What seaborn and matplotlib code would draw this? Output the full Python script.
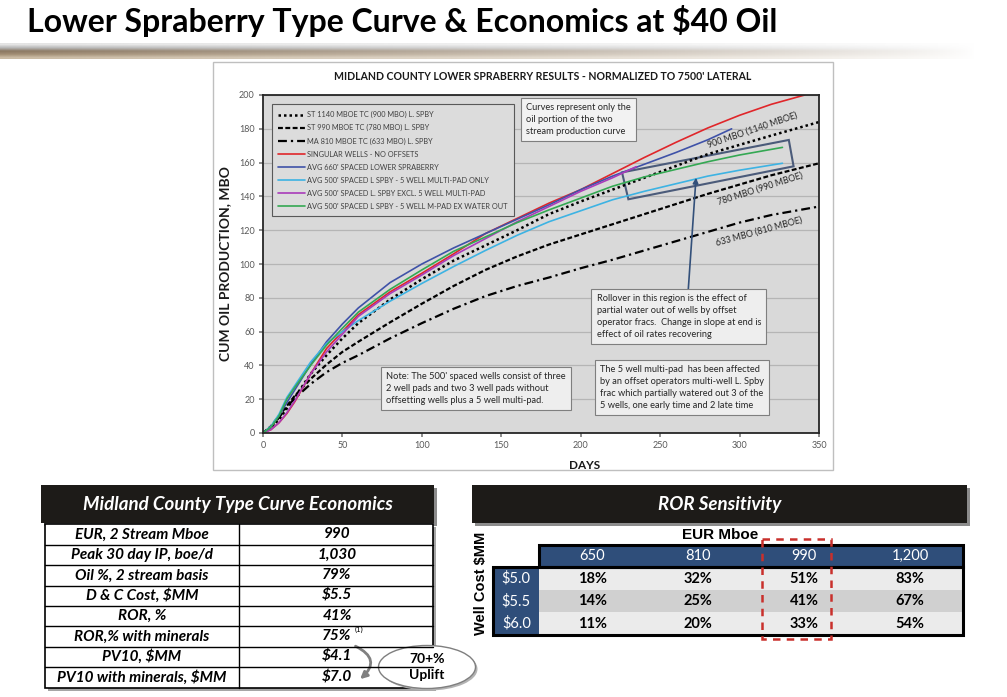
import numpy as np
import pandas as pd
import seaborn as sns
import matplotlib.pyplot as plt
from matplotlib.patches import Rectangle, Polygon, Ellipse, FancyArrowPatch
from matplotlib.colors import ListedColormap, to_rgb

sns.set_theme(style="white")
plt.rcParams["font.family"] = ["Lato", "DejaVu Sans"]

# ---- type curves (days, cum oil MBO) ----
days_tc = [0, 5, 10, 15, 20, 30, 40, 50, 60, 80, 100, 120, 140, 160, 180, 200, 220, 240, 260, 280, 300, 320, 350]
st1140 = [0, 3, 8, 14.5, 21, 35, 46, 56, 65, 79, 91, 102, 111, 120, 129.5, 137, 144, 151, 158, 165, 170.5, 176, 184]
st990 = [0, 4, 10, 16, 22, 32, 40.5, 48, 54, 65.5, 76.5, 87, 96.5, 104.5, 111.5, 117.5, 123.5, 129.5, 135.5, 141.5, 147, 152.5, 159.6]
ma810 = [0, 3.5, 9, 15.5, 20.5, 29, 36, 41.5, 46, 56, 65, 73.5, 81, 87, 92, 97.5, 102.5, 108, 113.5, 119, 124.5, 129, 134]

# ---- actual well groups ----
red_days = [0, 5, 10, 15, 20, 30, 40, 50, 60, 80, 100, 120, 140, 160, 180, 200, 220, 240, 260, 280, 300, 320, 341]
red_vals = [0, 2, 6, 11.5, 18.5, 35, 50, 60, 70, 83.5, 94.5, 106, 118, 127, 136, 144, 153.5, 163, 172, 180.5, 188, 194.5, 200]
blue_days = [0, 5, 10, 15, 20, 30, 40, 50, 60, 80, 100, 120, 140, 160, 180, 200, 220, 240, 260, 280, 295]
blue_vals = [0, 3.5, 10, 18, 25.5, 40.5, 54, 64.5, 74, 89, 100, 109.5, 118, 126.5, 135, 144, 152, 159, 166, 173.5, 180]
cyan_days = [0, 5, 10, 15, 20, 30, 40, 50, 60, 80, 100, 120, 140, 160, 180, 200, 220, 240, 260, 280, 300, 327]
cyan_vals = [0, 4, 11, 21, 28, 42, 53, 60, 66.5, 78, 88.5, 98.5, 108, 117, 125, 131.5, 138, 143, 147.5, 152, 155.5, 159.6]
mag_days = [0, 5, 10, 15, 20, 30, 40, 50, 60, 80, 100, 120, 140, 160, 180, 200, 220, 235]
mag_vals = [0, 2, 6, 12, 19, 35, 48, 58.5, 69, 82.5, 93.5, 105, 115, 125, 134, 143, 151, 157.6]
green_days = [0, 5, 10, 15, 20, 30, 40, 50, 60, 80, 100, 120, 140, 160, 180, 200, 220, 240, 260, 280, 300, 327]
green_vals = [0, 3.5, 10, 20, 27, 40, 52, 62, 71.5, 85, 96.5, 107.5, 116, 124.5, 132, 139, 146, 151.5, 156, 160.5, 164.5, 169]

series = [
    ("ST 1140 MBOE TC (900 MBO) L. SPBY", days_tc, st1140, "black", (0, (1, 1.2)), 1.8),
    ("ST 990 MBOE TC (780 MBO) L. SPBY", days_tc, st990, "black", (0, (2.2, 1.1)), 1.6),
    ("MA 810 MBOE TC (633 MBO) L. SPBY", days_tc, ma810, "black", (0, (4, 1.8, 1, 1.8)), 1.6),
    ("SINGULAR WELLS - NO OFFSETS", red_days, red_vals, "#e0262a", "-", 1.2),
    ("AVG 660' SPACED LOWER SPRABERRY", blue_days, blue_vals, "#3f52a8", "-", 1.2),
    ("AVG 500' SPACED L SPBY - 5 WELL MULTI-PAD ONLY", cyan_days, cyan_vals, "#3db3e3", "-", 1.2),
    ("AVG 500' SPACED L. SPBY EXCL. 5 WELL MULTI-PAD", mag_days, mag_vals, "#a93cba", "-", 1.2),
    ("AVG 500' SPACED L SPBY - 5 WELL M-PAD EX WATER OUT", green_days, green_vals, "#34a853", "-", 1.2),
]

# ---- tables ----
econ_labels = ["EUR, 2 Stream Mboe", "Peak 30 day IP, boe/d", "Oil %, 2 stream basis", "D & C Cost, $MM",
               "ROR, %", "ROR,% with minerals", "PV10, $MM", "PV10 with minerals, $MM"]
econ_values = ["990", "1,030", "79%", "$5.5", "41%", "75%", "$4.1", "$7.0"]
eur_cols = ["650", "810", "990", "1,200"]
cost_rows = ["$5.0", "$5.5", "$6.0"]
ror_values = [[18, 32, 51, 83],
              [14, 25, 41, 67],
              [11, 20, 33, 54]]

fig = plt.figure(figsize=(10.07, 6.97), dpi=100)

# background / slide layer in pixel coordinates
bg = fig.add_axes([0, 0, 1, 1])
bg.axis("off")

# title bar gradient
prof = np.array([to_rgb(c) for c in ["#e4e4e4", "#b5b5b5", "#8a7761", "#a08c72", "#c9b9a2"]])
fade = np.clip(1 - np.linspace(0, 1, 400) / 0.97, 0, 1) ** 0.8
grad = np.ones((prof.shape[0], 400, 4))
grad[:, :, :3] = prof[:, None, :]
grad[:, :, 3] = fade[None, :]
bg.imshow(grad, extent=[0, 1007, 59, 43], aspect="auto", interpolation="bilinear")
bg.set_xlim(0, 1007)
bg.set_ylim(697, 0)
bg.text(27, 21, "Lower Spraberry Type Curve & Economics at $40 Oil", fontsize=23, fontweight="bold",
        ha="left", va="center", color="black")

# chart panel
bg.add_patch(Rectangle((213, 62), 620, 408, fc="white", ec="#bfbfbf", lw=1))
bg.text(543, 77, "MIDLAND COUNTY LOWER SPRABERRY RESULTS - NORMALIZED TO 7500' LATERAL",
        fontsize=7.6, fontweight="bold", ha="center", va="center", color="#1a1a1a")

# ---- main chart ----
ax = fig.add_axes([263 / 1007, 1 - 433 / 697, 556 / 1007, 338 / 697])
ax.set_facecolor("#d9d9d9")
for lab, d, v, col, ls, lw in series:
    sns.lineplot(x=d, y=v, ax=ax, color=col, linestyle=ls, lw=lw, label=lab)

ax.set_xlim(0, 350)
ax.set_ylim(0, 200)
ax.set_xticks(range(0, 351, 50))
ax.set_yticks(range(0, 201, 20))
ax.grid(axis="y", color="#b5b5b5", lw=0.9)
ax.set_axisbelow(True)
for s in ax.spines.values():
    s.set_visible(True)
    s.set_color("#262626")
    s.set_linewidth(1.3)
ax.tick_params(labelsize=6.5, labelcolor="#595959", color="#808080", length=3, direction="out",
               left=True, bottom=True, pad=3)
ax.set_xlabel("DAYS", fontsize=8.5, fontweight="bold", color="#1a1a1a")
ax.set_ylabel("CUM OIL PRODUCTION, MBO", fontsize=10, fontweight="bold", color="#1a1a1a")
ax.xaxis.set_label_coords(0.578, -0.08)
ax.yaxis.set_label_coords(-0.058, 0.5)

leg = ax.legend(loc="upper left", bbox_to_anchor=(0.009, 0.983), fontsize=5.3, handlelength=3.6,
                labelspacing=0.82, borderpad=0.9, frameon=True, fancybox=False,
                facecolor="#dcdcdc", edgecolor="#595959", framealpha=1, handletextpad=0.3)
leg.get_frame().set_linewidth(0.8)
for t in leg.get_texts():
    t.set_color("#404040")

# curve labels
ax.text(308, 179, "900 MBO (1140 MBOE)", rotation=18.8, fontsize=6.4, ha="center", va="center", color="#262626")
ax.text(313, 144.5, "780 MBO (990 MBOE)", rotation=17.8, fontsize=6.4, ha="center", va="center", color="#262626")
ax.text(312, 119.5, "633 MBO (810 MBOE)", rotation=15.3, fontsize=6.4, ha="center", va="center", color="#262626")

# rollover region box and arrow
ax.add_patch(Polygon([(226, 154.2), (331, 173.4), (334, 157.8), (230, 138.3)], closed=True,
                     fill=False, ec="#4b5b7a", lw=1.5))
ax.annotate("", xy=(272.7, 152.7), xytext=(267.6, 83.4),
            arrowprops=dict(arrowstyle="-|>", color="#33507a", lw=1.2, mutation_scale=8))

box = dict(boxstyle="square,pad=0.55", fc="#eeeeee", ec="#7f7f7f", lw=0.8)
ax.text(165.5, 195, "Curves represent only the\noil portion of the two\nstream production curve",
        fontsize=6.7, ha="left", va="top", color="#262626", linespacing=1.4,
        bbox=dict(boxstyle="square,pad=0.55", fc="#f2f2f2", ec="#7f7f7f", lw=0.8))
ax.text(77.5, 36, "Note: The 500' spaced wells consist of three\n2 well pads and two 3 well pads without\noffsetting wells plus a 5 well multi-pad.",
        fontsize=6.7, ha="left", va="top", color="#262626", linespacing=1.4, bbox=box)
ax.text(210, 82, "Rollover in this region is the effect of\npartial water out of wells by offset\noperator fracs.  Change in slope at end is\neffect of oil rates recovering",
        fontsize=6.7, ha="left", va="top", color="#262626", linespacing=1.4, bbox=box)
ax.text(212, 40, "The 5 well multi-pad  has been affected\nby an offset operators multi-well L. Spby\nfrac which partially watered out 3 of the\n5 wells, one early time and 2 late time",
        fontsize=6.7, ha="left", va="top", color="#262626", linespacing=1.4, bbox=box)

# ---- left economics table ----
hdr_col = "#1d1b18"
bg.add_patch(Rectangle((44, 488), 393, 38, fc="#8c8c8c", ec="none"))
bg.add_patch(Rectangle((41, 485), 393, 38, fc=hdr_col, ec="none"))
bg.text(237.5, 504.5, "Midland County Type Curve Economics", color="white", fontsize=13.5,
        fontweight="bold", fontstyle="italic", ha="center", va="center")
top, rh, left, right, split = 524.3, 20.4, 45, 433, 239
nrow = len(econ_labels)
bg.add_patch(Rectangle((left + 3, top + 3), right - left, rh * nrow, fc="#a6a6a6", ec="none"))
bg.add_patch(Rectangle((left, top), right - left, rh * nrow, fc="white", ec="black", lw=1.2))
for i, (lab, val) in enumerate(zip(econ_labels, econ_values)):
    yc = top + rh * (i + 0.5)
    if i > 0:
        bg.plot([left, right], [top + rh * i] * 2, color="black", lw=1)
    bg.text((left + split) / 2, yc, lab, fontsize=11, fontweight="bold", fontstyle="italic",
            ha="center", va="center", color="black")
    bg.text((split + right) / 2 + 1, yc, val, fontsize=11, fontweight="bold", fontstyle="italic",
            ha="center", va="center", color="black")
bg.plot([split, split], [top, top + rh * nrow], color="black", lw=1)
bg.text(355, 629, "(1)", fontsize=5.5, ha="left", va="center", color="black")

# uplift callout
bg.add_patch(FancyArrowPatch((353, 645), (358, 681), connectionstyle="arc3,rad=-0.8",
                             arrowstyle="-|>", mutation_scale=10, color="#808080", lw=2))
bg.add_patch(Ellipse((429, 669), 97, 43, fc="#b3b3b3", ec="none"))
bg.add_patch(Ellipse((427, 667), 97, 43, fc="white", ec="#7f7f7f", lw=1))
bg.text(427, 667, "70+%\nUplift", fontsize=10, fontweight="bold", ha="center", va="center",
        linespacing=1.35, color="black")

# ---- ROR sensitivity ----
bg.add_patch(Rectangle((475, 488), 495, 38, fc="#8c8c8c", ec="none"))
bg.add_patch(Rectangle((472, 485), 495, 38, fc=hdr_col, ec="none"))
bg.text(719.5, 504.5, "ROR Sensitivity", color="white", fontsize=13.5, fontweight="bold",
        fontstyle="italic", ha="center", va="center")
bg.text(720, 535, "EUR Mboe", fontsize=11, fontweight="bold", family="Liberation Sans",
        ha="center", va="center", color="black")
bg.text(481, 583, "Well Cost $MM", fontsize=10.5, fontweight="bold", family="Liberation Sans",
        rotation=90, ha="center", va="center", color="black")

ax_r = fig.add_axes([539.3 / 1007, 1 - 635 / 697, 424 / 1007, 67.7 / 697])
shade = pd.DataFrame([[i % 2] * len(eur_cols) for i in range(len(cost_rows))],
                     index=cost_rows, columns=eur_cols)
annot = np.array([[f"{v}%" for v in row] for row in ror_values])
sns.heatmap(shade, annot=annot, fmt="", cmap=ListedColormap(["#ebebeb", "#d0d0d0"]), cbar=False,
            xticklabels=False, yticklabels=False, ax=ax_r,
            annot_kws=dict(fontsize=10.5, fontweight="bold", color="black"))
navy = "#2f4e7a"
rw = 46 / 106
ax_r.add_patch(Rectangle((0, -1), len(eur_cols), 1, fc=navy, ec="none", clip_on=False))
ax_r.add_patch(Rectangle((-rw, 0), rw, len(cost_rows), fc=navy, ec="none", clip_on=False))
for j, c in enumerate(eur_cols):
    ax_r.text(j + 0.5, -0.5, c, color="white", fontsize=10.5, ha="center", va="center")
for i, r in enumerate(cost_rows):
    ax_r.text(-rw / 2, i + 0.5, r, color="white", fontsize=10.5, ha="center", va="center")
ax_r.add_patch(Rectangle((0, -1), len(eur_cols), 1, fill=False, ec="black", lw=2.2, clip_on=False))
ax_r.add_patch(Rectangle((-rw, 0), len(eur_cols) + rw, len(cost_rows), fill=False, ec="black",
                         lw=2.2, clip_on=False))
ax_r.add_patch(Rectangle((2.1, -1.25), 0.65, 4.44, fill=False, ec="#c9302c", lw=1.8,
                         linestyle=(0, (3, 2.5)), clip_on=False))
ax_r.set_xticks([])
ax_r.set_yticks([])

fig.savefig("out.png", dpi=100)
